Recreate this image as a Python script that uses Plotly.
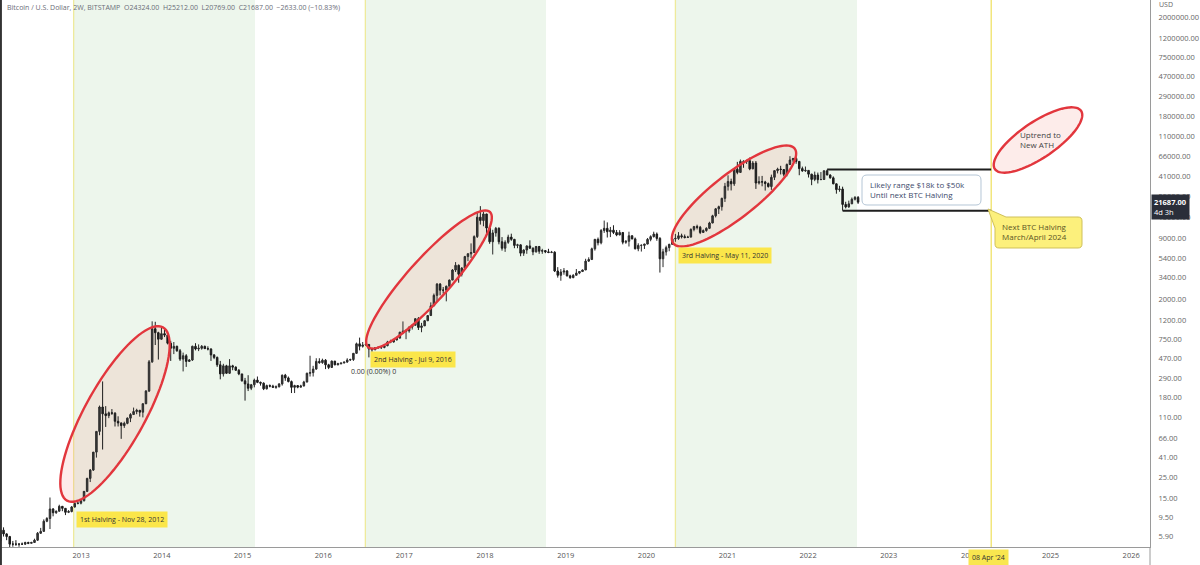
import numpy as np
import pandas as pd
import plotly.graph_objects as go

# ---------------- data (2-week candles, Bitstamp BTC/USD) ----------------
first_open = 5.3
close = [
    6.9, 6.3, 5.9, 4.9, 4.9, 4.9, 4.9, 4.9, 5.1, 5.0, 5.1, 5.4, 6.4, 6.7, 8.6, 9.2, 11.6, 10.6, 11.0, 12.4, 11.8, 10.7, 10.9, 12.2, 13.3, 13.4,
    14.2, 17.9, 24.6, 30.2, 46.9, 78, 142, 120, 115, 123, 122, 100, 96, 90, 95, 108, 118, 127, 131, 125, 154, 210, 430, 970, 880, 750,
    860, 830, 680, 600, 630, 565, 460, 500, 435, 450, 630, 590, 600, 630, 595, 590, 510, 480, 400, 320, 390, 325, 390, 378, 350, 320,
    270, 250, 225, 245, 275, 260, 255, 222, 240, 237, 230, 233, 250, 310, 290, 265, 230, 240, 231, 238, 262, 325, 330, 360, 435, 422,
    448, 400, 375, 438, 400, 410, 418, 428, 450, 455, 530, 670, 630, 650, 660, 590, 580, 610, 607, 612, 640, 700, 700, 735, 770, 890,
    910, 920, 1010, 1055, 1240, 1000, 1040, 1180, 1340, 1700, 2200, 2900, 2500, 2500, 2750, 3200, 4100, 4600, 3700, 4300, 5700, 6100, 6300, 9300, 15000, 13800,
    16200, 11500, 8200, 10200, 11400, 8200, 7000, 8100, 9200, 8700, 7500, 7600, 6200, 6700, 7400, 7000, 6400, 7300, 6500, 6600, 6400, 6300, 6350, 4000, 3600, 3900,
    4000, 3550, 3400, 3600, 3800, 3950, 4100, 5100, 5300, 6900, 8700, 8000, 10800, 11400, 10500, 10900, 10300, 9700, 10300, 8100, 8300, 9500, 8800, 6900, 7500, 7500,
    7750, 8700, 9300, 9900, 8900, 5400, 6400, 7100, 7700, 8800, 8900, 9500, 9300, 9100, 9200, 11100, 11900, 11700, 10300, 10800, 11400, 13000, 15500, 18400, 19400, 23800,
    32000, 36000, 34000, 48600, 45000, 59000, 58800, 60000, 49100, 56700, 34700, 35800, 35600, 34200, 31800, 39900, 47000, 48800, 48300, 43000, 54700, 61000, 63300, 59000, 49400, 46700,
    47300, 43100, 37900, 42200, 37700, 37800, 46800, 42200, 39400, 34000, 29500, 29900, 20500, 19300, 20800, 23300, 24324, 21687,
]
high = [
    7.2, 7.4, 6.4, 6.0, 5.3, 5.4, 5.0, 5.1, 5.2, 5.2, 5.2, 5.6, 6.6, 7.3, 9.0, 9.5, 15.4, 11.9, 11.2, 12.9, 12.5, 11.9, 11.3, 12.5, 13.6, 13.8,
    14.5, 18.0, 25.0, 31.0, 47.0, 78, 147, 266, 145, 127, 135, 125, 113, 97, 99, 110, 122, 140, 136, 132, 155, 215, 450, 1163, 1150, 900,
    1000, 960, 870, 720, 700, 640, 590, 540, 520, 460, 640, 680, 660, 650, 640, 630, 600, 520, 490, 440, 410, 400, 460, 400, 385, 360,
    320, 290, 310, 250, 285, 300, 265, 260, 246, 247, 245, 241, 255, 315, 320, 300, 272, 245, 243, 245, 270, 330, 500, 390, 470, 470,
    465, 460, 410, 445, 440, 420, 420, 430, 470, 465, 535, 690, 780, 700, 680, 660, 600, 615, 630, 615, 645, 720, 740, 750, 790, 900,
    1160, 950, 1020, 1070, 1260, 1290, 1120, 1200, 1350, 1850, 2300, 2980, 2980, 2700, 2800, 3250, 4200, 4980, 4700, 4400, 5800, 6200, 7880, 9600, 17200, 19666,
    17200, 16300, 12000, 11000, 11800, 11700, 9200, 8500, 9750, 10000, 8800, 7800, 7700, 6800, 7500, 8500, 7150, 7400, 7400, 6900, 6700, 6900, 6550, 6500, 4400, 4200,
    4300, 4100, 3650, 3700, 4200, 4000, 4150, 5400, 5600, 7100, 8800, 9100, 11200, 13800, 13200, 11800, 12300, 10950, 10900, 10400, 8500, 10500, 9600, 9100, 7900, 7700,
    7800, 9000, 9600, 10500, 10300, 9200, 6900, 7450, 7800, 9500, 9950, 10400, 10000, 9800, 9500, 11400, 12100, 12470, 12100, 11100, 11700, 13400, 15900, 18800, 19900, 24200,
    34800, 41900, 38600, 49700, 58300, 61700, 60600, 61500, 64800, 59500, 59500, 40900, 41300, 36600, 35100, 42600, 47200, 50500, 52900, 48800, 56000, 67000, 64300, 69000, 59300, 51900,
    52000, 47600, 43500, 45900, 44800, 45400, 47300, 48200, 42900, 40800, 34300, 32400, 31700, 21900, 22500, 24300, 25200, 25212,
]
low = [
    5.0, 5.9, 5.4, 4.2, 4.6, 4.7, 4.6, 4.8, 4.8, 4.9, 5.0, 5.1, 5.3, 6.3, 6.7, 8.4, 7.1, 9.7, 10.3, 10.9, 11.0, 10.0, 10.5, 10.7, 12.0, 13.0,
    13.0, 14.0, 17.6, 22.5, 29.5, 41, 71, 50, 87, 108, 117, 88, 88, 65, 85, 93, 98, 117, 119, 112, 110, 152, 205, 420, 650, 455,
    740, 790, 660, 440, 520, 550, 440, 340, 380, 430, 440, 570, 560, 580, 590, 570, 440, 460, 380, 280, 300, 320, 320, 350, 345, 310,
    265, 166, 210, 215, 230, 255, 240, 215, 218, 230, 229, 222, 230, 240, 270, 260, 200, 200, 225, 230, 235, 260, 300, 300, 355, 410,
    410, 360, 360, 370, 395, 395, 405, 415, 420, 440, 440, 525, 570, 610, 640, 480, 550, 570, 600, 590, 600, 630, 680, 690, 730, 770,
    850, 750, 880, 950, 1050, 940, 890, 1040, 1170, 1330, 1700, 1900, 2200, 2300, 1900, 2600, 3200, 3900, 3000, 3500, 4200, 5100, 5500, 6300, 9000, 12500,
    12000, 9200, 7800, 6000, 9300, 7700, 6600, 6400, 7800, 8400, 7000, 7000, 5750, 5800, 6100, 6900, 5900, 6300, 6100, 6100, 6200, 6200, 6200, 3900, 3400, 3150,
    3650, 3500, 3300, 3350, 3600, 3700, 3900, 4100, 5000, 5300, 6600, 7500, 7700, 10200, 9100, 9200, 9900, 9400, 9600, 7700, 7800, 7300, 8700, 6800, 6500, 6450,
    6870, 7700, 8300, 9100, 8400, 3850, 4400, 5850, 6500, 7600, 8200, 8600, 8900, 8900, 9000, 9100, 10600, 11100, 9900, 10200, 10500, 11200, 12900, 14900, 16200, 17600,
    21800, 28800, 28900, 32300, 43000, 44900, 50400, 55400, 47500, 48800, 30000, 33400, 32000, 28800, 31000, 29300, 37300, 43900, 42800, 40800, 40800, 53900, 57900, 55600, 42000, 45700,
    45600, 39700, 32900, 36300, 34300, 37200, 37600, 42000, 38600, 33700, 26700, 28000, 17600, 18600, 18900, 20700, 22600, 20769,
]
candle_start = "2012-01-02"
candle_step = "14D"

halving_dates = ["2012-11-28", "2016-07-09", "2020-05-11"]
halving_labels = ["1st Halving - Nov 28, 2012", "2nd Halving - Jul 9, 2016", "3rd Halving - May 11, 2020"]
cycle_end_dates = ["2015-02-26", "2018-10-04", "2022-08-10"]
next_halving = "2024-04-08"
range_top, range_top_start = 48200, "2022-03-28"
range_bottom, range_bottom_start = 17600, "2022-06-06"
last_price = 21687.00

y_ticks = [5.9, 9.5, 15, 25, 41, 66, 110, 180, 290, 470, 750, 1200, 2000, 3400, 5400, 9000,
           15000, 25000, 41000, 66000, 110000, 180000, 290000, 470000, 750000, 1200000, 2000000]
x_years = list(range(2013, 2027))

# ---------------- figure ----------------
dates = pd.date_range(candle_start, periods=len(close), freq=candle_step)
opens = [first_open] + close[:-1]

W, H = 1150, 547
def px(x):
    return x / W
def py(y):
    return 1 - y / H

FONT = "Open Sans"
fig = go.Figure()
fig.add_trace(go.Candlestick(
    x=dates, open=opens, high=high, low=low, close=close,
    increasing=dict(line=dict(color="#2b2b2b", width=1), fillcolor="#3a3a3a"),
    decreasing=dict(line=dict(color="#1c1c1c", width=1), fillcolor="#1c1c1c"),
    whiskerwidth=0, showlegend=False, hoverinfo="skip"))

# range lines
fig.add_trace(go.Scatter(x=[range_top_start, next_halving], y=[range_top, range_top], mode="lines",
                         line=dict(color="#1e1e1e", width=2), showlegend=False, hoverinfo="skip"))
fig.add_trace(go.Scatter(x=[range_bottom_start, next_halving], y=[range_bottom, range_bottom], mode="lines",
                         line=dict(color="#1e1e1e", width=2), showlegend=False, hoverinfo="skip"))

shapes = []
for h, e in zip(halving_dates, cycle_end_dates):
    shapes.append(dict(type="rect", xref="x", yref="paper", x0=h, x1=e, y0=0, y1=1,
                       fillcolor="#edf6ec", line=dict(width=0), layer="below"))
for h in halving_dates:
    shapes.append(dict(type="line", xref="x", yref="paper", x0=h, x1=h, y0=0, y1=1,
                       line=dict(color="#eeea9c", width=1.3), layer="below"))
shapes.append(dict(type="line", xref="x", yref="paper", x0=next_halving, x1=next_halving, y0=0, y1=1,
                   line=dict(color="#f0e268", width=1.3), layer="below"))


def ellipse_path(cx, cy, a, b, ang, n=90):
    th = np.radians(ang)
    t = np.linspace(0, 2 * np.pi, n, endpoint=False)
    X = cx + a * np.cos(th) * np.cos(t) - b * np.sin(th) * np.sin(t)
    Y = cy + a * np.sin(th) * np.cos(t) + b * np.cos(th) * np.sin(t)
    return "M " + " L ".join(f"{px(x):.5f},{py(y):.5f}" for x, y in zip(X, Y)) + " Z"

ellipses = [(115, 414, 99, 30, -61), (429, 279.5, 91, 21, -48), (734, 196, 77, 22, -38), (1038, 140, 52, 18, -34)]
for cx, cy, a, b, ang in ellipses:
    p = ellipse_path(cx, cy, a, b, ang)
    shapes.append(dict(type="path", xref="paper", yref="paper", path=p,
                       fillcolor="rgba(240,120,105,0.14)", line=dict(width=0), layer="below"))
    shapes.append(dict(type="path", xref="paper", yref="paper", path=p,
                       line=dict(color="#e2363d", width=2.4), layer="above"))


def rrect(x0, y0, x1, y1, r):
    P = lambda x, y: f"{px(x):.5f},{py(y):.5f}"
    return (f"M {P(x0+r, y0)} L {P(x1-r, y0)} Q {P(x1, y0)} {P(x1, y0+r)} L {P(x1, y1-r)} "
            f"Q {P(x1, y1)} {P(x1-r, y1)} L {P(x0+r, y1)} Q {P(x0, y1)} {P(x0, y1-r)} "
            f"L {P(x0, y0+r)} Q {P(x0, y0)} {P(x0+r, y0)} Z")

shapes.append(dict(type="path", xref="paper", yref="paper", path=rrect(862, 175, 981, 205, 5),
                   fillcolor="white", line=dict(color="#b5c6d6", width=1), layer="above"))

P = lambda x, y: f"{px(x):.5f},{py(y):.5f}"
callout = (f"M {P(1006, 217)} L {P(1078, 217)} Q {P(1082, 217)} {P(1082, 221)} L {P(1082, 244)} "
           f"Q {P(1082, 248)} {P(1078, 248)} L {P(999, 248)} Q {P(995, 248)} {P(995, 244)} "
           f"L {P(995, 228)} L {P(988, 209)} Z")
shapes.append(dict(type="path", xref="paper", yref="paper", path=callout,
                   fillcolor="#fcf07c", line=dict(color="#cfc05a", width=1), layer="above"))
# left border of screenshot and extension of the price-scale separator
shapes.append(dict(type="line", xref="paper", yref="paper", x0=0.0008, x1=0.0008, y0=-0.04, y1=1,
                   line=dict(color="#333", width=2)))
shapes.append(dict(type="line", xref="paper", yref="paper", x0=1, x1=1, y0=-0.04, y1=0,
                   line=dict(color="#9a9a9a", width=1)))

ann = []
def label(text, x, y, size=7, color="#333", bg=None, xanchor="left", yanchor="middle", pad=2):
    d = dict(text=text, xref="paper", yref="paper", x=px(x), y=py(y), xanchor=xanchor, yanchor=yanchor,
             showarrow=False, font=dict(family=FONT, size=size, color=color), align="left")
    if bg:
        d.update(bgcolor=bg, borderpad=pad)
    ann.append(d)

label("Bitcoin / U.S. Dollar, 2W, BITSTAMP&nbsp;&nbsp;O24324.00&nbsp;&nbsp;H25212.00&nbsp;&nbsp;L20769.00&nbsp;&nbsp;C21687.00&nbsp;&nbsp;−2633.00 (−10.83%)",
      5, 8, size=7, color="#6a6d78")
label("USD", 1157, 5, size=7, color="#666")
label(halving_labels[0], 76, 519.5, size=7, bg="#fbe64a", pad=3)
label(halving_labels[1], 370, 359.5, size=7, bg="#fbe64a", pad=3)
label(halving_labels[2], 678, 255, size=7, bg="#fbe64a", pad=3)
label("0.00 (0.00%) 0", 349, 371, size=7, color="#333")
label("Likely range $18k to $50k<br>Until next BTC Halving", 868, 189.5, size=8, color="#3d4a6b")
label("Next BTC Halving<br>March/April 2024", 1000, 232, size=8, color="#5b5426")
label("Uptrend to<br>New ATH", 1018, 139, size=8, color="#444")
label(f"<b>{last_price:.2f}</b><br>4d 3h&nbsp;&nbsp;&nbsp;&nbsp;&nbsp;&nbsp;&nbsp;", 1151, 206.5, size=7.5, color="white", bg="#2a2e39", pad=2)
label("08 Apr '24", 988.5, 557, size=7, color="#333", bg="#f9e64f", xanchor="center", pad=3)

fig.update_layout(
    width=1200, height=565, margin=dict(l=0, r=50, t=0, b=18),
    paper_bgcolor="white", plot_bgcolor="white",
    shapes=shapes, annotations=ann, showlegend=False,
    xaxis=dict(type="date", range=["2011-12-31", "2026-03-27"], rangeslider=dict(visible=False),
               showgrid=False, zeroline=False, showline=True, linecolor="#9a9a9a", linewidth=1,
               tickvals=[f"{y}-01-01" for y in x_years], ticktext=[str(y) for y in x_years],
               ticks="", tickfont=dict(family=FONT, size=7.5, color="#555"), ticklabelstandoff=1),
    yaxis=dict(type="log", side="right", range=[0.6597, 6.4913], showgrid=False, zeroline=False,
               showline=True, linecolor="#9a9a9a", linewidth=1,
               tickvals=y_ticks, ticktext=[f"{v:.2f}" for v in y_ticks], ticks="",
               tickfont=dict(family=FONT, size=7.5, color="#666"), ticklabelstandoff=6),
)

fig.write_html("out.html", config={"displayModeBar": False},
               post_script="document.body.style.margin='0';document.body.style.overflow='hidden';")
